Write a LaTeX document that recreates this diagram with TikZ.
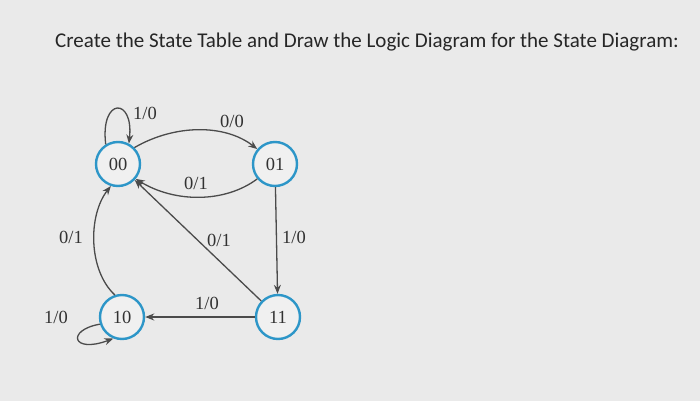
\documentclass[tikz,border=0pt]{standalone}
\usepackage{fontspec}
\setmainfont{Liberation Serif}
\newfontfamily\titlefont{Carlito}
\usetikzlibrary{arrows.meta}
\definecolor{bgc}{RGB}{234,234,234}
\definecolor{ringc}{RGB}{45,150,200}
\definecolor{edgec}{RGB}{75,75,75}
\definecolor{txtc}{RGB}{50,50,50}
\begin{document}
\begin{tikzpicture}[x=1pt,y=-1pt,
  state/.style={circle,draw=ringc,line width=2.4pt,fill=white!30!bgc,minimum size=44pt,inner sep=0pt,font=\fontsize{18.5}{18}\selectfont,text=txtc},
  tr/.style={draw=edgec,line width=1.3pt,-{Stealth[length=9pt,width=7pt]}},
  lab/.style={font=\fontsize{18.5}{18}\selectfont,text=txtc,inner sep=0pt}]
\fill[bgc] (0,0) rectangle (700,401);
\useasboundingbox (0,0) rectangle (700,401);
\node[anchor=west,inner sep=0pt,font=\titlefont\fontsize{21}{22}\selectfont,text=black!85] (title) at (55,42) {Create the State Table and Draw the Logic Diagram for the State Diagram:};
\node[state] (s00) at (118,164) {00};
\node[state] (s01) at (275,164) {01};
\node[state] (s10) at (122,317) {10};
\node[state] (s11) at (278,317) {11};
% self loop 00
\draw[tr] (s00.122) .. controls (100,97) and (134,97) .. (s00.62);
\node[lab] (l1) at (145,113) {1/0};
% 00 -> 01
\draw[tr] (s00.45) .. controls (175,124) and (225,124) .. (s01.140);
\node[lab] (l2) at (232,121) {0/0};
% 01 -> 00
\draw[tr] (s01.220) .. controls (225,203) and (175,203) .. (s00.-40);
\node[lab] (l3) at (196,183) {0/1};
% 01 -> 11
\draw[tr] (s01) -- (s11);
\node[lab] (l4) at (294,237) {1/0};
% 11 -> 00
\draw[tr] (s11) -- (s00);
\node[lab] (l5) at (219,240) {0/1};
% 11 -> 10
\draw[tr] (s11) -- (s10);
\node[lab] (l6) at (207,303) {1/0};
% 10 -> 00
\draw[tr] (s10.108) .. controls (88,270) and (88,215) .. (s00.-108);
\node[lab] (l7) at (71,237) {0/1};
% self loop 10
\draw[tr] (s10.198) .. controls (66,330) and (72,354) .. (s10.-112);
\node[lab] (l8) at (56,317) {1/0};
\end{tikzpicture}
\end{document}
